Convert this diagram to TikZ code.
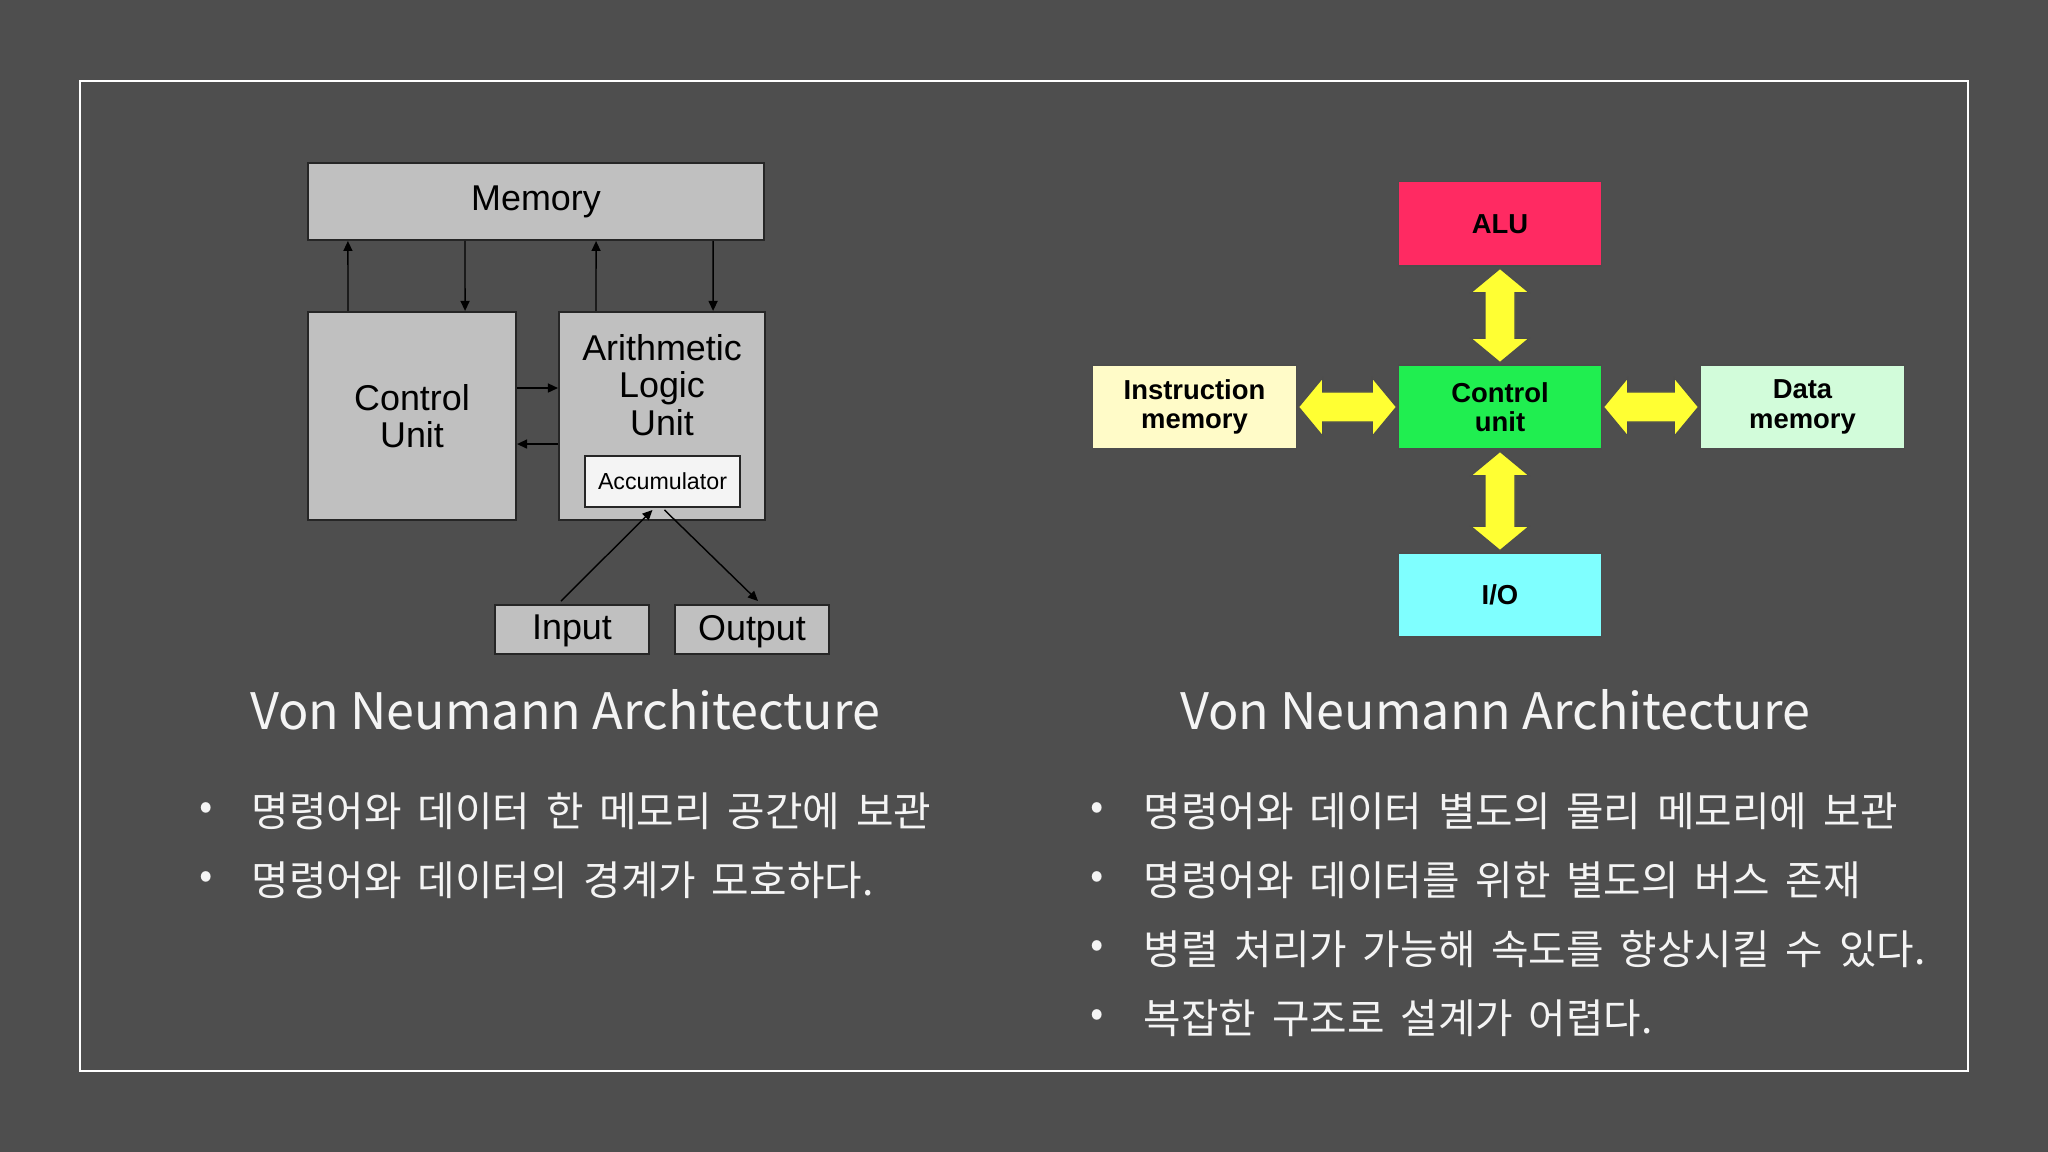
\documentclass[tikz,border=0pt]{standalone}
\usepackage{fontspec}
\setmainfont{Liberation Sans}
\newfontfamily\krfont{Noto Sans CJK KR}
\usetikzlibrary{arrows.meta,calc}
\definecolor{bg}{HTML}{4E4E4E}
\definecolor{lgray}{HTML}{C0C0C0}
\definecolor{accfill}{HTML}{F4F4F4}
\definecolor{alured}{HTML}{FF2A62}
\definecolor{cugreen}{HTML}{20EE50}
\definecolor{instrc}{HTML}{FFFBC8}
\definecolor{datac}{HTML}{D2FCDA}
\definecolor{ioc}{HTML}{7FFFFF}
\definecolor{busyellow}{HTML}{FFFF33}
\definecolor{txt}{HTML}{F4F4F4}
\newcommand{\vbus}[2]{\path[busarrow] let \p1=(#1.south), \p2=(#2.north) in
 (\x1,\y1-0.02cm) -- (\x1+0.29cm,\y1-0.26cm) -- (\x1+0.15cm,\y1-0.26cm) -- (\x1+0.15cm,\y2+0.26cm) -- (\x1+0.29cm,\y2+0.26cm) -- (\x1,\y2+0.02cm) -- (\x1-0.29cm,\y2+0.26cm) -- (\x1-0.15cm,\y2+0.26cm) -- (\x1-0.15cm,\y1-0.26cm) -- (\x1-0.29cm,\y1-0.26cm) -- cycle;}
\newcommand{\hbus}[2]{\path[busarrow] let \p1=(#1.east), \p2=(#2.west) in
 (\x1+0.02cm,\y1) -- (\x1+0.26cm,\y1+0.29cm) -- (\x1+0.26cm,\y1+0.15cm) -- (\x2-0.26cm,\y1+0.15cm) -- (\x2-0.26cm,\y1+0.29cm) -- (\x2-0.02cm,\y1) -- (\x2-0.26cm,\y1-0.29cm) -- (\x2-0.26cm,\y1-0.15cm) -- (\x1+0.26cm,\y1-0.15cm) -- (\x1+0.26cm,\y1-0.29cm) -- cycle;}
\newcommand{\krbody}{\krfont\fontsize{11.6pt}{13pt}\selectfont\spaceskip=\dimexpr\fontdimen2\font+1.9pt\relax}
\begin{document}
\begin{tikzpicture}[x=0.01cm,y=-0.01cm,
  lbox/.style={draw=black!85, line width=0.55pt, fill=lgray, inner sep=0pt, font=\fontsize{10.2pt}{10.6pt}\selectfont, align=center},
  larrow/.style={-{Triangle[length=0.1cm,width=0.09cm]}, line width=0.4pt, black},
  rbox/.style={draw=black!70, line width=0.3pt, inner sep=0pt, minimum width=2.02cm, minimum height=0.84cm, font=\bfseries\fontsize{7.8pt}{8.4pt}\selectfont, align=center},
  busarrow/.style={fill=busyellow, draw=black!70, line width=0.3pt},
  title/.style={text=txt, font=\krfont\fontsize{14.3pt}{17pt}\selectfont, anchor=base, inner sep=0pt},
  btext/.style={text=txt, font=\krbody, anchor=base west, inner sep=0pt},
  bdot/.style={text=txt, font=\krfont\fontsize{11.2pt}{13pt}\selectfont, inner sep=0pt}
]
\fill[bg] (0,0) rectangle (2048,1152);
\useasboundingbox (0,0) rectangle (2048,1152);
\draw[white, line width=0.6pt] (80,81) rectangle (1968,1071);

% ---- left diagram
\node[lbox, minimum width=4.56cm, minimum height=0.77cm] (mem) at (536,201.5) {Memory};
\node[lbox, minimum width=2.08cm, minimum height=2.08cm] (cu) at (412,416) {Control\\Unit};
\node[lbox, minimum width=2.06cm, minimum height=2.08cm] (alu) at (662,416) {};
\node[font=\fontsize{10.2pt}{10.6pt}\selectfont, align=center, inner sep=0pt] (alut) at (662,385) {Arithmetic\\Logic\\Unit};
\node[lbox, fill=accfill, minimum width=1.55cm, minimum height=0.51cm, font=\fontsize{6.6pt}{7pt}\selectfont] (acc) at (662.5,481.5) {Accumulator};
\node[lbox, minimum width=1.54cm, minimum height=0.49cm, text depth=0.04cm] (inp) at (572,629.5) {Input};
\node[lbox, minimum width=1.54cm, minimum height=0.49cm, text depth=0.04cm] (out) at (752,629.5) {Output};

\draw[larrow] ([xshift=0.41cm]cu.north west) -- ([xshift=0.41cm]mem.south west);
\draw[larrow] ([xshift=1.58cm]mem.south west) -- ([xshift=1.58cm]cu.north west);
\draw[larrow] ([xshift=0.38cm]alu.north west) -- ([xshift=2.89cm]mem.south west);
\draw[larrow] ([xshift=4.06cm]mem.south west) -- ([xshift=1.55cm]alu.north west);
\draw[larrow] ([yshift=-0.77cm]cu.north east) -- ([yshift=-0.77cm]alu.north west);
\draw[larrow] ([yshift=-1.33cm]alu.north west) -- ([yshift=-1.33cm]cu.north east);
\draw[larrow] ([xshift=-0.11cm,yshift=0.03cm]inp.north) -- ([xshift=-0.1cm,yshift=-0.02cm]acc.south);
\draw[larrow] ([xshift=0.02cm,yshift=-0.02cm]acc.south) -- ([xshift=0.06cm,yshift=0.03cm]out.north);

% ---- right diagram
\node[rbox, fill=alured] (ralu) at (1500,224) {ALU};
\node[rbox, fill=cugreen] (rcu) at (1500,407) {Control\\unit};
\node[rbox, fill=instrc, minimum width=2.03cm] (rim) at (1194.5,407) {Instruction\\memory};
\node[rbox, fill=datac, minimum width=2.03cm] (rdm) at (1802.5,407) {Data\\memory};
\node[rbox, fill=ioc] (rio) at (1500,595) {I/O};
\vbus{ralu}{rcu}
\vbus{rcu}{rio}
\hbus{rim}{rcu}
\hbus{rcu}{rdm}

% ---- titles
\node[title] (t1) at (565,729) {Von Neumann Architecture};
\node[title] (t2) at (1495,729) {Von Neumann Architecture};

% ---- bullets left
\node[bdot] (lb1) at (206,811) {•};
\node[btext] (lt1) at (251,826) {명령어와 데이터 한 메모리 공간에 보관};
\node[bdot] (lb2) at (206,880) {•};
\node[btext] (lt2) at (251,895) {명령어와 데이터의 경계가 모호하다.};

% ---- bullets right
\node[bdot] (rb1) at (1097,811) {•};
\node[btext] (rt1) at (1143,826) {명령어와 데이터 별도의 물리 메모리에 보관};
\node[bdot] (rb2) at (1097,880) {•};
\node[btext] (rt2) at (1143,895) {명령어와 데이터를 위한 별도의 버스 존재};
\node[bdot] (rb3) at (1097,949) {•};
\node[btext] (rt3) at (1143,964) {병렬 처리가 가능해 속도를 향상시킬 수 있다.};
\node[bdot] (rb4) at (1097,1018) {•};
\node[btext] (rt4) at (1143,1033) {복잡한 구조로 설계가 어렵다.};
\end{tikzpicture}
\end{document}
